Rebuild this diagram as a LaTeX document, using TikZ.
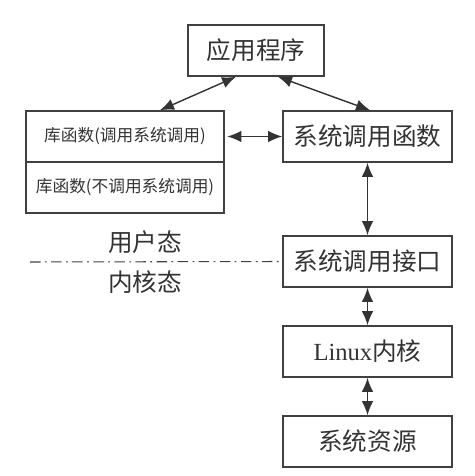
\documentclass[tikz,border=0pt]{standalone}
\usepackage{fontspec}
\setmainfont{Liberation Serif}
\newfontfamily\cjk{Noto Sans CJK SC}
\usepackage{tikz}
\usetikzlibrary{arrows.meta,positioning}
\tikzstyle{box} = [draw=black!75, line width=0.9pt, text=black!80, font=\cjk\fontsize{14}{16}\selectfont,
	minimum width=3.38cm, minimum height=1.02cm, inner sep=0pt]
\tikzstyle{libbox} = [box, minimum width=3.96cm, font=\cjk\fontsize{9.5}{11}\selectfont]
\tikzstyle{link} = [draw=black!80, line width=0.8pt, {Latex[length=2.8mm,width=2.3mm]}-{Latex[length=2.8mm,width=2.3mm]}]

\begin{document}
\begin{tikzpicture}[x=0.02cm, y=-0.02cm]
				\useasboundingbox (0,0) rectangle (474,476);
				
				\node [box, minimum width=2.72cm] (app)  at (256,50.5)  {应用程序};
				\node [libbox] (lib1) at (125,136.5) {库函数(调用系统调用)};
				\node [libbox] (lib2) at (125,187.5) {库函数(不调用系统调用)};
				\node [box] (sysfn)  at (367.5,136.5) {系统调用函数};
				\node [box] (sysif)  at (367.5,261.5) {系统调用接口};
				\node [box] (kernel) at (367.5,351.5) {{\rmfamily Linux}内核};
				\node [box] (res)    at (367.5,441.5) {系统资源};
				
				\node [text=black!80, font=\cjk\fontsize{14}{16}\selectfont] (user) at (145,242) {用户态};
				\node [text=black!80, font=\cjk\fontsize{14}{16}\selectfont] (kern) at (145,282) {内核态};
				\coordinate (dl) at (30,262);
				\draw [black!75, line width=0.6pt, dash pattern=on 6pt off 2.5pt on 1pt off 2.5pt] (dl) -- (sysif.west);
				
				\path [link] ([xshift=-0.4cm]app.south) -- ([xshift=0.7cm]lib1.north);
				\path [link] ([xshift=0.44cm]app.south) -- ([xshift=0.05cm]sysfn.north);
				\path [link] ([xshift=0.05cm]lib1.east) -- (sysfn.west);
				\path [link] (sysfn.south) -- (sysif.north);
				\path [link] (sysif.south) -- (kernel.north);
				\path [link] (kernel.south) -- (res.north);
				
\end{tikzpicture}
\end{document}
